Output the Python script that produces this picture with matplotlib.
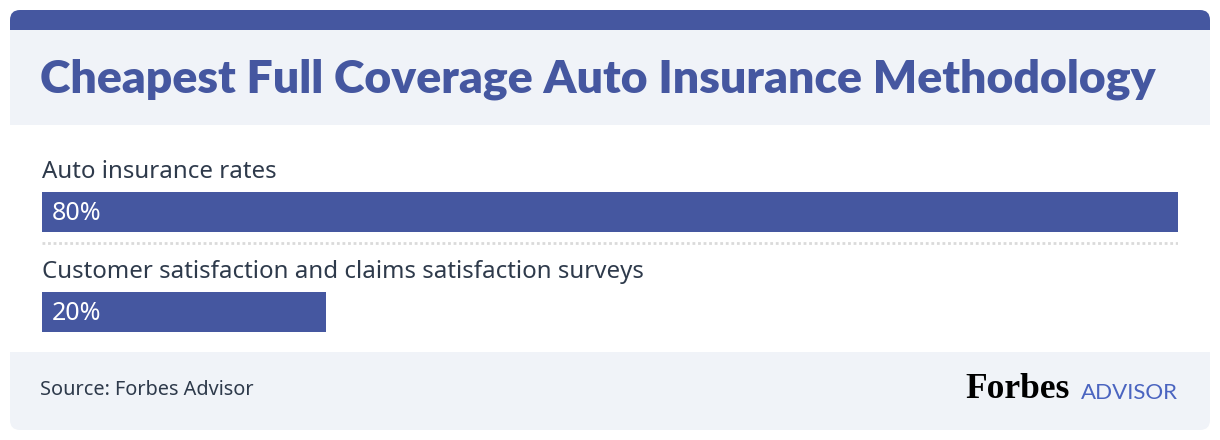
import matplotlib
matplotlib.use('Agg')
from matplotlib import pyplot as plt
from matplotlib.patches import FancyBboxPatch, Rectangle

# данные
title = 'Cheapest Full Coverage Auto Insurance Methodology'
categories = ['Auto insurance rates', 'Customer satisfaction and claims satisfaction surveys']
weights = [80, 20]
value_labels = ['80%', '20%']
source = 'Source: Forbes Advisor'

blue = '#4557a0'
light = '#f0f3f8'
dark = '#2e3a4b'
body = 'Noto Sans'

W, H = 1220, 440
fig = plt.figure(figsize=(W / 100, H / 100), dpi=100)
fig.patch.set_facecolor('white')

# фон в пиксельных координатах
bg = fig.add_axes([0, 0, 1, 1])
bg.set_xlim(0, W)
bg.set_ylim(H, 0)
bg.axis('off')

bg.add_patch(FancyBboxPatch((10, 10), 1200, 40, boxstyle='round,pad=0,rounding_size=10',
                            fc=blue, ec='none'))
bg.add_patch(Rectangle((10, 30), 1200, 95, fc=light, ec='none'))
bg.add_patch(FancyBboxPatch((10, 352), 1200, 78, boxstyle='round,pad=0,rounding_size=10',
                            fc=light, ec='none'))
bg.add_patch(Rectangle((10, 352), 1200, 40, fc=light, ec='none'))

bg.text(40, 93, title, fontsize=33.4, fontweight='heavy', family='Lato', color=blue, va='baseline')
bg.text(40, 395, source, fontsize=14.3, family=body, color=dark, va='baseline')
bg.text(1070, 398, 'Forbes', fontsize=25.5, fontweight='bold', family='Liberation Serif',
        color='black', va='baseline', ha='right')
bg.text(1178, 399, 'ADVISOR', fontsize=16, family='Lato', color='#4a64c0', va='baseline', ha='right')

# столбцы
ax = fig.add_axes([42 / W, (H - 352) / H, (1178 - 42) / W, 227 / H])
ax.set_xlim(0, max(weights))
ax.set_ylim(352, 125)
ax.axis('off')

rows = [212, 312]
ax.barh(rows, weights, height=40, color=blue, left=0)
for y, cat, lab in zip(rows, categories, value_labels):
    ax.text(0, y - 34, cat, fontsize=17.3, family=body, color=dark, va='baseline')
    ax.text(0.7, y + 8, lab, fontsize=18, family=body, color='white', va='baseline')
ax.plot([0, max(weights)], [243, 243], color='#dadada', lw=2, linestyle=(0, (1, 1)))

plt.savefig('out.png', dpi=100)
